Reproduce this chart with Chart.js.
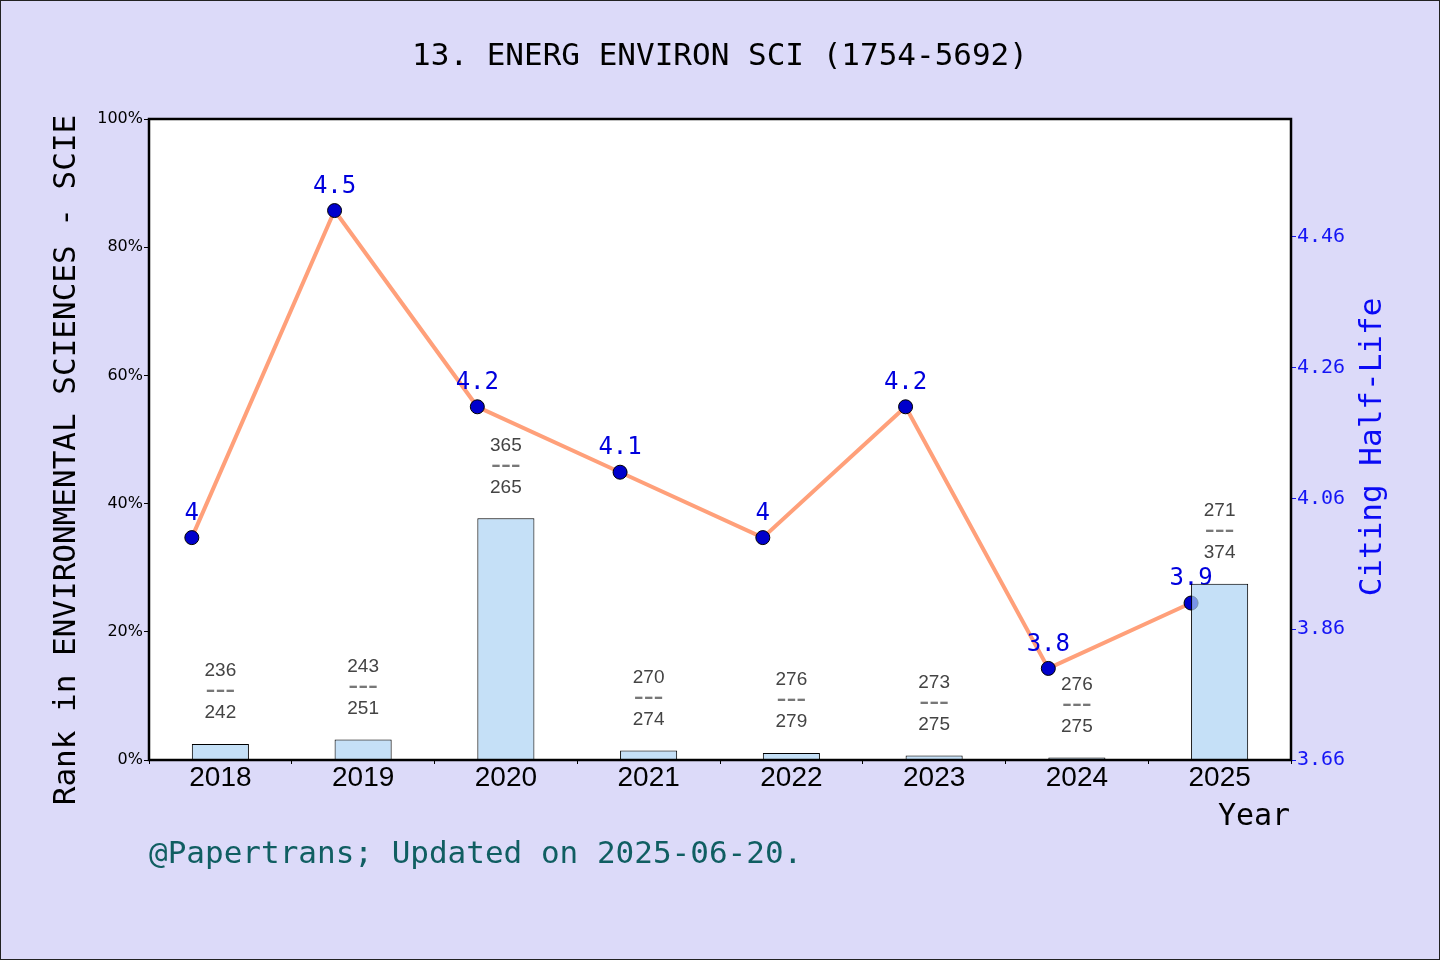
<!DOCTYPE html>
<html>
<head>
<meta charset="utf-8">
<script src="https://cdn.jsdelivr.net/npm/chart.js@4.4.1/dist/chart.umd.min.js"></script>
<style>
  html, body { margin: 0; padding: 0; background: #dcdaf9; }
  canvas { display: block; }
</style>
</head>
<body>
<canvas id="chart" width="1440" height="960"></canvas>
<script>
// chart data
const years = ['2018', '2019', '2020', '2021', '2022', '2023', '2024', '2025'];
const rankPct = [2.5, 3.2, 37.7, 1.5, 1.1, 0.7, 0.4, 27.5];      // bar height, %
const rankTop = ['236', '243', '365', '270', '276', '273', '276', '271'];
const rankBottom = ['242', '251', '265', '274', '279', '275', '275', '374'];
const halfLife = [4.0, 4.5, 4.2, 4.1, 4.0, 4.2, 3.8, 3.9];
const leftTicks = [0, 20, 40, 60, 80, 100];
const rightTicks = [3.66, 3.86, 4.06, 4.26, 4.46];

const COLORS = {
  page: '#dcdaf9',
  plot: '#ffffff',
  bar: 'rgba(172, 211, 244, 0.7)',
  line: '#ffa07a',
  point: '#0000cc',
  pointLabel: '#0000dd',
  rightAxis: '#1515f5',
  barLabel: '#444444',
  footer: '#105e62',
};
const MONO = '"DejaVu Sans Mono", monospace';

// line points sit at the left edge of each bar
const lineShift = 0.3;

const backdrop = {
  id: 'backdrop',
  beforeDraw(chart) {
    const { ctx, chartArea: a, width, height } = chart;
    ctx.save();
    ctx.fillStyle = COLORS.page;
    ctx.fillRect(0, 0, width, height);
    ctx.strokeStyle = '#222';
    ctx.lineWidth = 1;
    ctx.strokeRect(0.5, 0.5, width - 1, height - 1);
    ctx.fillStyle = COLORS.plot;
    ctx.fillRect(a.left, a.top, a.right - a.left, a.bottom - a.top);
    ctx.restore();
  },
};

// value labels above the line points, drawn with the line so bars cover them
const pointLabels = {
  id: 'pointLabels',
  afterDatasetDraw(chart, args) {
    if (args.index !== 1) return;
    const { ctx } = chart;
    ctx.save();
    ctx.font = '24px ' + MONO;
    ctx.fillStyle = COLORS.pointLabel;
    ctx.textAlign = 'center';
    ctx.textBaseline = 'middle';
    args.meta.data.forEach((pt, i) => {
      ctx.fillText(String(halfLife[i]), pt.x, pt.y - 24);
    });
    ctx.restore();
  },
};

const decorations = {
  id: 'decorations',
  afterDraw(chart) {
    const { ctx, chartArea: a } = chart;
    ctx.save();

    // frame of the plot
    ctx.strokeStyle = '#000';
    ctx.lineWidth = 2.5;
    ctx.strokeRect(a.left, a.top, a.right - a.left, a.bottom - a.top);

    // rank labels over the bars
    const bars = chart.getDatasetMeta(0).data;
    ctx.textAlign = 'center';
    ctx.textBaseline = 'middle';
    bars.forEach((bar, i) => {
      ctx.fillStyle = COLORS.barLabel;
      ctx.font = '19px "Liberation Sans", Arial, sans-serif';
      ctx.fillText(rankTop[i], bar.x, bar.y - 73);
      ctx.fillText(rankBottom[i], bar.x, bar.y - 31);
      ctx.fillStyle = '#777';
      ctx.font = '30px "Liberation Sans", Arial, sans-serif';
      ctx.fillText('---', bar.x, bar.y - 53);
    });

    // title
    ctx.fillStyle = '#000';
    ctx.font = '31px ' + MONO;
    ctx.fillText('13. ENERG ENVIRON SCI (1754-5692)', 720, 57);

    // x axis name
    ctx.font = '30px ' + MONO;
    ctx.fillText('Year', 1254, 817);

    // left axis name
    ctx.save();
    ctx.translate(67, 460);
    ctx.rotate(-Math.PI / 2);
    ctx.font = '31px ' + MONO;
    ctx.fillText('Rank in ENVIRONMENTAL SCIENCES - SCIE', 0, 0);
    ctx.restore();

    // right axis name
    ctx.save();
    ctx.translate(1373, 447);
    ctx.rotate(-Math.PI / 2);
    ctx.font = '31px ' + MONO;
    ctx.fillStyle = '#0a0af5';
    ctx.fillText('Citing Half-Life', 0, 0);
    ctx.restore();

    // footer
    ctx.textAlign = 'left';
    ctx.fillStyle = COLORS.footer;
    ctx.font = '31px ' + MONO;
    ctx.fillText('@Papertrans; Updated on 2025-06-20.', 149, 855);

    ctx.restore();
  },
};

new Chart(document.getElementById('chart'), {
  type: 'bar',
  data: {
    labels: years,
    datasets: [
      {
        type: 'bar',
        data: rankPct,
        xAxisID: 'x',
        yAxisID: 'y',
        backgroundColor: COLORS.bar,
        borderColor: '#000',
        borderWidth: 1,
        barPercentage: 0.4,
        categoryPercentage: 1.0,
        grouped: false,
        order: 0,
      },
      {
        type: 'line',
        data: halfLife.map((v, i) => ({ x: i + lineShift, y: v })),
        xAxisID: 'xl',
        yAxisID: 'y1',
        borderColor: COLORS.line,
        borderWidth: 4,
        pointRadius: 7,
        pointBackgroundColor: COLORS.point,
        pointBorderColor: '#000',
        pointBorderWidth: 1,
        tension: 0,
        order: 1,
      },
    ],
  },
  options: {
    responsive: false,
    animation: false,
    devicePixelRatio: 1,
    layout: { padding: { top: 119, left: 0, right: 89, bottom: 160 } },
    plugins: {
      legend: { display: false },
      title: { display: false },
      tooltip: { enabled: false },
    },
    scales: {
      x: {
        type: 'category',
        position: 'bottom',
        offset: true,
        grid: { offset: true, drawOnChartArea: false, drawTicks: true, tickLength: 4, color: '#000' },
        border: { display: false },
        ticks: {
          color: '#000',
          padding: -3,
          font: { family: '"Liberation Sans", Arial, sans-serif', size: 28 },
        },
        afterFit(s) { s.height = 40; },
      },
      xl: {
        type: 'linear',
        display: false,
        offset: false,
        min: 0,
        max: years.length,
      },
      y: {
        position: 'left',
        min: 0,
        max: 100,
        afterBuildTicks(s) { s.ticks = leftTicks.map((v) => ({ value: v })); },
        grid: { drawOnChartArea: false, tickLength: 5, color: '#000' },
        border: { display: false },
        ticks: {
          color: '#000',
          padding: 1,
          font: { family: '"DejaVu Sans", sans-serif', size: 16 },
          callback: (v) => v + '%',
        },
        afterFit(s) { s.width = 149; },
      },
      y1: {
        position: 'right',
        min: 3.66,
        max: 4.64,
        afterBuildTicks(s) { s.ticks = rightTicks.map((v) => ({ value: v })); },
        grid: { drawOnChartArea: false, tickLength: 5, color: COLORS.rightAxis },
        border: { display: false },
        ticks: {
          color: COLORS.rightAxis,
          padding: 1,
          font: { family: MONO, size: 20 },
          callback: (v) => v.toFixed(2),
        },
        afterFit(s) { s.width = 60; },
      },
    },
  },
  plugins: [backdrop, pointLabels, decorations],
});
</script>
</body>
</html>
